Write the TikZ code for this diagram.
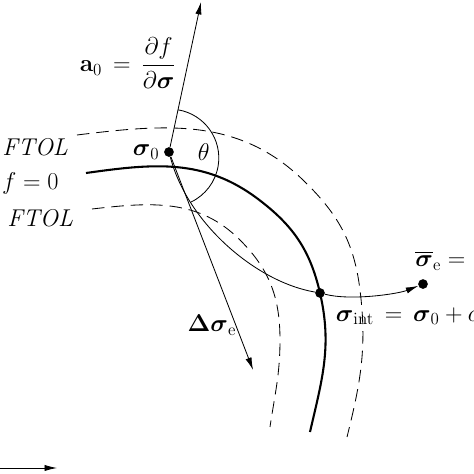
\RequirePackage{fix-cm}
\documentclass[tikz,border=0pt]{standalone}
\usepackage{amsmath}
\usepackage{tikz}
\usetikzlibrary{arrows.meta,positioning}

\tikzset{
  dot/.style={circle,fill=black,inner sep=0pt,minimum size=7pt},
  yield/.style={line width=1.5pt},
  tol/.style={line width=0.6pt,dash pattern=on 9pt off 5pt},
  thinline/.style={line width=0.6pt},
  vec/.style={line width=0.6pt,-{Latex[length=9pt,width=4.5pt]}},
  lbl/.style={font=\fontsize{17.5}{21}\selectfont,inner sep=1pt}
}

\begin{document}
\begin{tikzpicture}[scale=1.2]
\useasboundingbox (0,0) rectangle (10,10);
% tolerance band and yield surface
\draw[tol] (1.624,7.152) to[out=7,in=136] (6.392,6.203) to[out=-44,in=97] (7.595,3.882) to[out=-83,in=76] (7.321,0.781);
\draw[yield] (1.814,6.350) to[out=8,in=143] (5.443,5.802) to[out=-37,in=103] (6.751,3.819) to[out=-77,in=77] (6.540,0.886);
\draw[tol] (1.941,5.591) to[out=6.5,in=135] (5.063,4.937) to[out=-45,in=90] (5.907,2.827) to[out=-90,in=81.5] (5.696,0.992);
\node[lbl] at (0.74,6.90) {\textit{FTOL}};
\node[lbl] at (0.64,6.14) {$f = 0$};
\node[lbl] at (0.85,5.40) {\textit{FTOL}};
% stress points
\node[dot] (s0) at (3.565,6.793) {};
\node[dot] (sint) at (6.751,3.819) {};
\node[dot] (se) at (8.924,4.008) {};
\coordinate (a0) at (4.241,9.958);
\coordinate (dse) at (5.338,2.194);
\draw[vec] (s0) -- (a0);
\draw[vec] (s0) -- (dse);
\draw[thinline] (s0) .. controls (3.95,5.3) and (5.4,4.05) .. (sint);
\draw[vec] (sint) .. controls (7.4,3.65) and (8.4,3.8) .. (se);
% angle between a0 and the increment
\draw[thinline] (3.756,7.683) arc[start angle=80.5, end angle=-64.5, radius=1.03];
\node[lbl] at (4.30,6.79) {$\theta$};
\node[lbl,left=2pt of s0] {$\boldsymbol{\sigma}_0$};
\node[lbl] at (2.70,8.67) {$\mathbf{a}_0 \,=\, \dfrac{\partial f}{\partial\boldsymbol{\sigma}}$};
\node[lbl] at (4.47,3.14) {$\boldsymbol{\Delta\sigma}_{\mathrm{e}}$};
\node[lbl,anchor=west] at (8.73,4.50) {$\overline{\boldsymbol{\sigma}}_{\mathrm{e}} =$};
\node[lbl,anchor=west] at (7.05,3.33) {$\boldsymbol{\sigma}_{\mathrm{int}} \,=\, \boldsymbol{\sigma}_0 + \alpha$};
% stray arrow at the bottom
\coordinate (b0) at (0,0.127);
\coordinate (b1) at (1.203,0.127);
\draw[vec] (b0) -- (b1);
\end{tikzpicture}
\end{document}
